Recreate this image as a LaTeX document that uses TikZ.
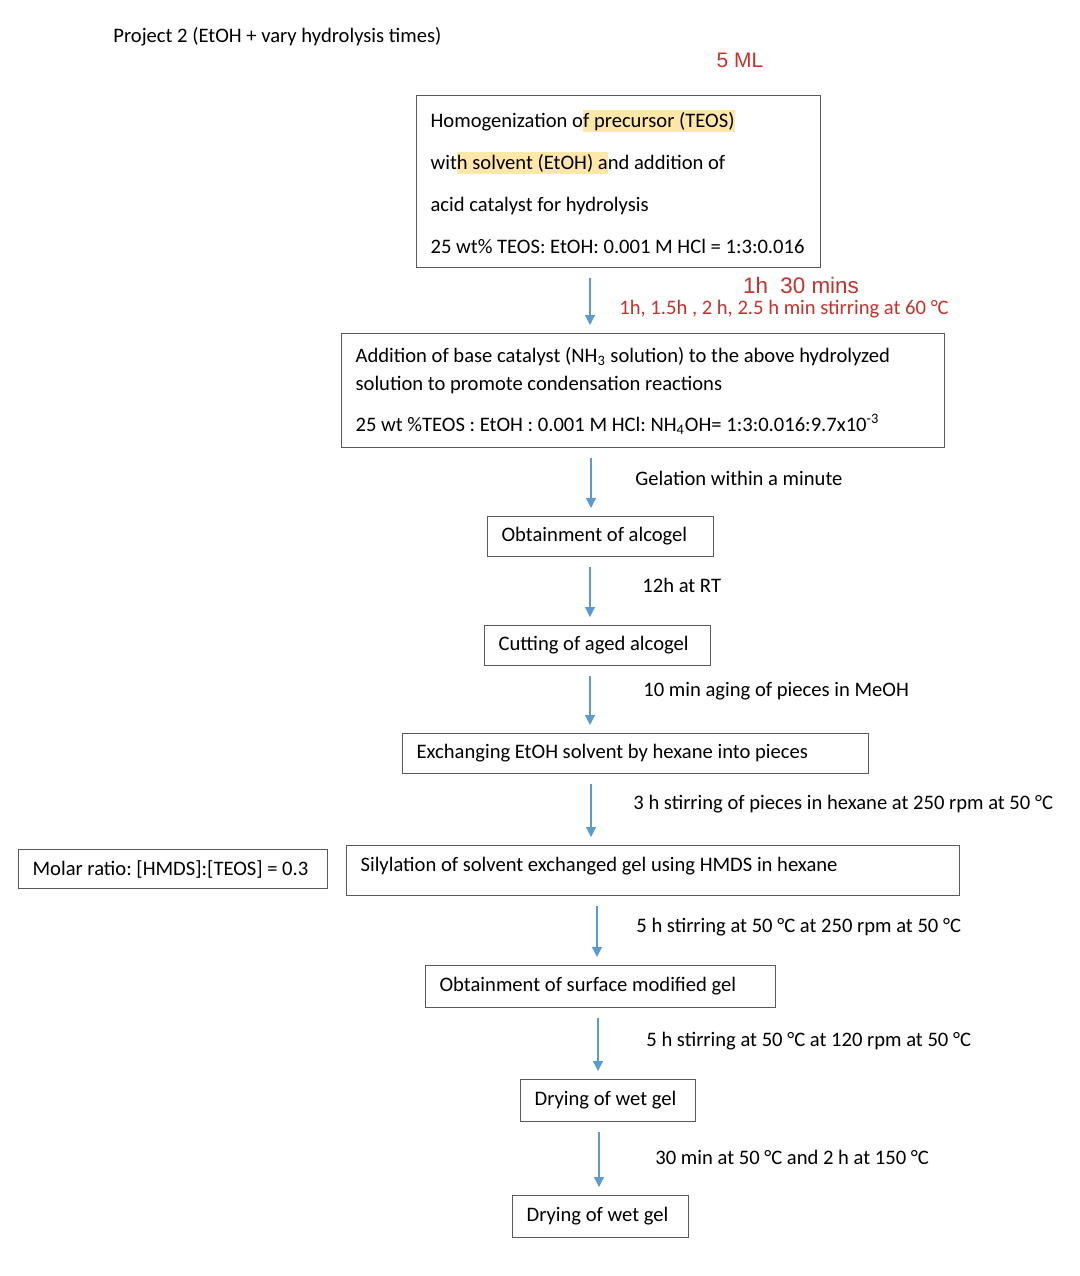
\documentclass[tikz,border=0pt]{standalone}
\usepackage{fontspec}
\setmainfont{Carlito}
\newfontfamily\arialfont{Liberation Sans}
\usetikzlibrary{arrows.meta}
\definecolor{boxgray}{RGB}{90,90,90}
\definecolor{flowblue}{RGB}{91,155,213}
\definecolor{notered}{RGB}{196,50,44}
\definecolor{hlyellow}{RGB}{255,231,168}
\newcommand{\hlt}[1]{{\setlength{\fboxsep}{0pt}\colorbox{hlyellow}{\vrule width 0pt height 8.6pt depth 2.6pt #1}}}
\tikzset{
  stepbox/.style={draw=boxgray, line width=0.6pt, anchor=north west, align=left,
    inner xsep=7pt, inner ysep=0pt, font=\fontsize{10.3}{12}\selectfont,
    execute at begin node={\frenchspacing\spaceskip=0pt\xspaceskip=0pt}},
  flowarrow/.style={draw=flowblue, line width=0.6pt, -{Triangle[width=5pt,length=5pt]},
    shorten <=5pt, shorten >=4pt},
  steplabel/.style={anchor=west, inner sep=0pt, font=\fontsize{10.3}{12}\selectfont},
  rednote/.style={text=notered, inner sep=0pt}
}
\begin{document}
\begin{tikzpicture}[x=0.5pt,y=-0.5pt]
\useasboundingbox (0,0) rectangle (1080,1276);
% title and notes
\node[steplabel] (title) at (113,37) {Project 2 (EtOH + vary hydrolysis times)};
\node[rednote, font=\arialfont\fontsize{10.5}{12}\selectfont] (vol) at (740,60) {5 ML};
% process steps
\node[stepbox, minimum width=202pt, minimum height=86pt, text width=188pt,
  font=\fontsize{10.3}{21}\selectfont] (b1) at (416,95)
  {Homogenization o\hlt{f precursor (TEOS)}\\
   wit\hlt{h solvent (EtOH) a}nd addition of\\
   acid catalyst for hydrolysis\\
   25 wt\% TEOS: EtOH: 0.001 M HCl = 1:3:0.016};
\node[stepbox, minimum width=301.5pt, minimum height=57pt, text width=287.5pt,
  font=\fontsize{10.3}{14}\selectfont] (b2) at (341,333)
  {Addition of base catalyst (NH\textsubscript{3} solution) to the above hydrolyzed\\
   solution to promote condensation reactions\\[6.5pt]
   25 wt \%TEOS : EtOH : 0.001 M HCl: NH\textsubscript{4}OH= 1:3:0.016:9.7x10\textsuperscript{-3}};
\node[stepbox, minimum width=113pt, minimum height=20pt, text width=99pt] (b3) at (487,516)
  {Obtainment of alcogel};
\node[stepbox, minimum width=113pt, minimum height=20pt, text width=99pt] (b4) at (484,625)
  {Cutting of aged alcogel};
\node[stepbox, minimum width=233pt, minimum height=20pt, text width=219pt] (b5) at (402,733)
  {Exchanging EtOH solvent by hexane into pieces};
\node[stepbox, minimum width=306.5pt, minimum height=25pt, text width=292.5pt, text depth=6pt] (b6) at (346,845)
  {Silylation of solvent exchanged gel using HMDS in hexane};
\node[stepbox, minimum width=154.5pt, minimum height=19.5pt, text width=140.5pt] (ratio) at (18,849)
  {Molar ratio: [HMDS]:[TEOS] = 0.3};
\node[stepbox, minimum width=175pt, minimum height=21pt, text width=161pt] (b7) at (425,965)
  {Obtainment of surface modified gel};
\node[stepbox, minimum width=87.5pt, minimum height=21pt, text width=73.5pt] (b8) at (520,1079)
  {Drying of wet gel};
\node[stepbox, minimum width=88pt, minimum height=21pt, text width=74pt] (b9) at (512,1195)
  {Drying of wet gel};
% connectors
\foreach \a/\b/\x in {b1/b2/590, b2/b3/591, b3/b4/590, b4/b5/590, b5/b6/591,
                      b6/b7/597, b7/b8/598, b8/b9/599}
  \draw[flowarrow] (\a.south -| \x,0) -- (\b.north -| \x,0);
% conditions
\node[rednote, font=\arialfont\fontsize{11.2}{12}\selectfont] (t1) at (801,285) {1h~~30 mins};
\node[steplabel, text=notered] (t2) at (619,309) {1h, 1.5h , 2 h, 2.5 h min stirring at 60 °C};
\node[steplabel] (t3) at (635,478) {Gelation within a minute};
\node[steplabel] (t4) at (642,585) {12h at RT};
\node[steplabel] (t5) at (643,691) {10 min aging of pieces in MeOH};
\node[steplabel] (t6) at (633,804) {3 h stirring of pieces in hexane at 250 rpm at 50 °C};
\node[steplabel] (t7) at (636,927) {5 h stirring at 50 °C at 250 rpm at 50 °C};
\node[steplabel] (t8) at (646,1041) {5 h stirring at 50 °C at 120 rpm at 50 °C};
\node[steplabel] (t9) at (655,1157) {30 min at 50 °C and 2 h at 150 °C};
\end{tikzpicture}
\end{document}
